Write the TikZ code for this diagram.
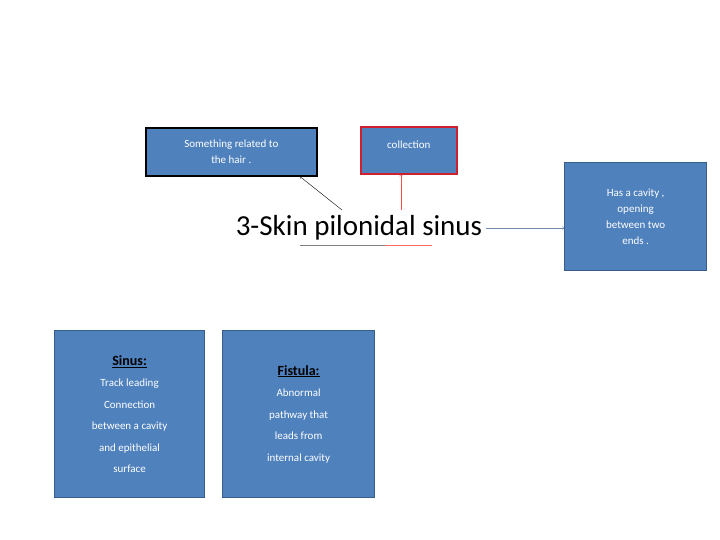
\documentclass[tikz,border=0pt]{standalone}
\usepackage{fontspec}
\setmainfont{Carlito}
\begin{document}
\begin{tikzpicture}[x=1pt,y=-1pt,
box/.style={fill=boxblue,draw=boxedge,line width=1.2pt,text=white,align=center,inner sep=2pt,font=\fontsize{11}{16}\selectfont},
]
\definecolor{boxblue}{HTML}{4F81BD}
\definecolor{boxedge}{HTML}{385D8A}
\definecolor{redb}{HTML}{D0202F}
\useasboundingbox (0,0) rectangle (720,540);
\node[box,draw=black,line width=1.6pt,minimum width=171pt,minimum height=48pt,anchor=north west] (hair) at (145,127) {Something related to\\the hair .};
\node[box,draw=redb,line width=1.6pt,minimum width=96pt,minimum height=47pt,anchor=north west] (coll) at (360,126) {\raisebox{12pt}{collection}};
\node[box,minimum width=142pt,minimum height=108pt,anchor=north west] (cav) at (564,162) {Has a cavity ,\\opening\\between two\\ends .};
\node[font=\fontsize{29}{34}\selectfont] (title) at (359,228) {3-Skin pilonidal sinus};
\coordinate (u1) at (300,245); \coordinate (u2) at (385,245); \coordinate (u3) at (432,245);
\draw[gray,line width=1pt] (u1) -- (u2);
\draw[red!60,line width=1pt] (u2) -- (u3);
\coordinate (a1) at (342,210); \coordinate (a2) at (401,210);
\draw[->,black] (a1) -- (hair.south -| 300,0) ;
\draw[->,red!70] (a2) -- (coll.south -| 401,0);
\draw[->,boxedge!70] (title.east) -- (cav.west |- title.east);
\node[box,minimum width=150pt,minimum height=167pt,anchor=north west,font=\fontsize{11}{21.5}\selectfont] (sin) at (54,330) {{\fontsize{14}{21.5}\selectfont\bfseries\textcolor{black}{\underline{Sinus:}}}\\Track leading\\Connection\\between a cavity\\and epithelial\\surface};
\node[box,minimum width=152pt,minimum height=167pt,anchor=north west,font=\fontsize{11}{21.5}\selectfont] (fis) at (222,330) {{\fontsize{14}{21.5}\selectfont\bfseries\textcolor{black}{\underline{Fistula:}}}\\Abnormal\\pathway that\\leads from\\internal cavity};
\end{tikzpicture}
\end{document}
